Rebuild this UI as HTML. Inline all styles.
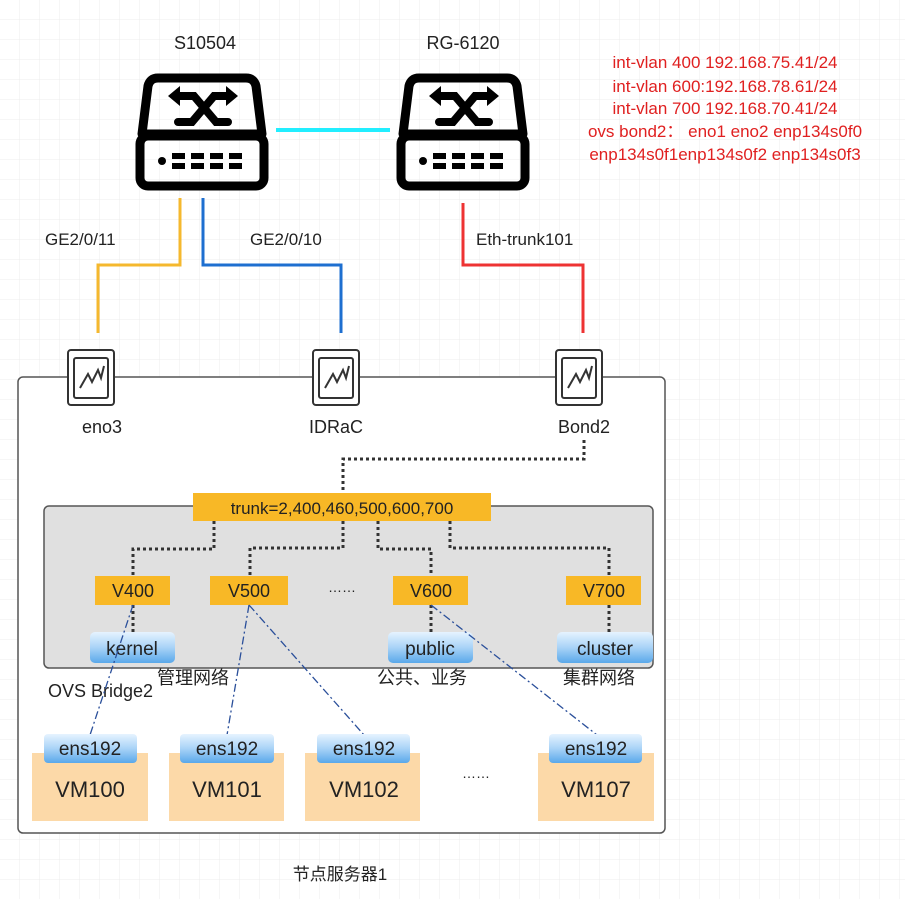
<!DOCTYPE html>
<html><head><meta charset="utf-8"><style>
body{margin:0;background:#fff;}
svg{display:block;font-family:"Liberation Sans","Noto Sans CJK SC",sans-serif;}
</style></head><body>
<svg width="905" height="899" viewBox="0 0 905 899" xmlns="http://www.w3.org/2000/svg">
<defs>
<pattern id="g" width="20" height="20" patternUnits="userSpaceOnUse"><path d="M20 0V20H0" fill="none" stroke="#ececec" stroke-width="1"/></pattern>
<linearGradient id="bl" x1="0" y1="0" x2="0" y2="1"><stop offset="0" stop-color="#e6f3ff"/><stop offset="0.5" stop-color="#a9d3f7"/><stop offset="1" stop-color="#5aa8ea"/></linearGradient>
<g id="sw">
<path d="M22 6 H110 Q118 6 120 14 L126 62 H6 L12 14 Q14 6 22 6Z" fill="none" stroke="#000" stroke-width="9" stroke-linejoin="round"/>
<rect x="4" y="64" width="124" height="50" rx="8" fill="none" stroke="#000" stroke-width="9"/>
<path d="M44 24 H58 L80 50 H92 M42 50 H56 L78 24 H90" fill="none" stroke="#000" stroke-width="8" stroke-linecap="round"/>
<path d="M32 24 l12 -10 v20z M102 24 l-12 -10 v20z" fill="#000"/>
<circle cx="26" cy="89" r="4" fill="#000"/>
<g fill="#000"><rect x="36" y="81" width="13" height="6"/><rect x="36" y="91" width="13" height="6"/><rect x="55" y="81" width="13" height="6"/><rect x="55" y="91" width="13" height="6"/><rect x="74" y="81" width="13" height="6"/><rect x="74" y="91" width="13" height="6"/><rect x="93" y="81" width="13" height="6"/><rect x="93" y="91" width="13" height="6"/></g>
</g>
<g id="nic">
<rect x="0" y="0" width="46" height="55" rx="3" fill="#fff" stroke="#333" stroke-width="2"/>
<rect x="6" y="8" width="34" height="40" rx="2" fill="none" stroke="#333" stroke-width="2"/>
<path d="M12 38 L20 24 L24 32 L30 20 L33 28 L36 16" fill="none" stroke="#333" stroke-width="2"/>
</g>
</defs>
<rect width="905" height="899" fill="url(#g)"/>
<rect x="18" y="377" width="647" height="456" rx="5" fill="#fff" stroke="#555" stroke-width="1.5"/>
<rect x="44" y="506" width="609" height="162" rx="5" fill="#e0e0e0" stroke="#555" stroke-width="1.5"/>
<use href="#sw" x="136" y="72"/>
<use href="#sw" x="397" y="72"/>
<text x="205" y="49" font-size="18" text-anchor="middle" fill="#222">S10504</text>
<text x="463" y="49" font-size="18" text-anchor="middle" fill="#222">RG-6120</text>
<line x1="276" y1="130" x2="390" y2="130" stroke="#2ef" stroke-width="4"/>
<g fill="#e02020" font-size="17" text-anchor="middle">
<text x="725" y="68">int-vlan 400 192.168.75.41/24</text>
<text x="725" y="92">int-vlan 600:192.168.78.61/24</text>
<text x="725" y="114">int-vlan 700 192.168.70.41/24</text>
<text x="725" y="137">ovs bond2： eno1 eno2 enp134s0f0</text>
<text x="725" y="160">enp134s0f1enp134s0f2 enp134s0f3</text>
</g>
<path d="M180 198 V265 H98 V333" fill="none" stroke="#f5b82e" stroke-width="3"/>
<path d="M203 198 V265 H341 V333" fill="none" stroke="#1e6fd0" stroke-width="3"/>
<path d="M463 203 V265 H583 V333" fill="none" stroke="#e33" stroke-width="3"/>
<g font-size="17" fill="#222">
<text x="45" y="245">GE2/0/11</text>
<text x="250" y="245">GE2/0/10</text>
<text x="476" y="245">Eth-trunk101</text>
</g>
<use href="#nic" x="68" y="350"/>
<use href="#nic" x="313" y="350"/>
<use href="#nic" x="556" y="350"/>
<g font-size="18" fill="#222" text-anchor="middle">
<text x="102" y="433">eno3</text><text x="336" y="433">IDRaC</text><text x="584" y="433">Bond2</text>
</g>
<g fill="none" stroke="#333" stroke-width="3" stroke-dasharray="3 3">
<path d="M584 440 V459 H343 V493"/>
<path d="M214 521 V549 H133 V576"/>
<path d="M343 521 V548 H250 V576"/>
<path d="M378 521 V549 H431 V576"/>
<path d="M450 521 V548 H609 V576"/>
<path d="M133 605 V632 M431 605 V632 M609 605 V632"/>
</g>
<rect x="193" y="493" width="298" height="28" fill="#f8b826"/>
<text x="342" y="514" font-size="17" text-anchor="middle" fill="#222">trunk=2,400,460,500,600,700</text>
<g fill="#f8b826"><rect x="95" y="576" width="75" height="29"/><rect x="210" y="576" width="78" height="29"/><rect x="393" y="576" width="75" height="29"/><rect x="566" y="576" width="75" height="29"/></g>
<g font-size="18" text-anchor="middle" fill="#222">
<text x="133" y="597">V400</text><text x="249" y="597">V500</text><text x="431" y="597">V600</text><text x="604" y="597">V700</text>
<text x="342" y="592" font-size="14">……</text>
</g>
<g fill="url(#bl)"><rect x="90" y="632" width="85" height="31" rx="5"/><rect x="388" y="632" width="85" height="31" rx="5"/><rect x="557" y="632" width="96" height="31" rx="5"/></g>
<g font-size="19" text-anchor="middle" fill="#222">
<text x="132" y="655">kernel</text><text x="430" y="655">public</text><text x="605" y="655">cluster</text>
</g>
<g font-size="18" fill="#222">
<text x="157" y="684">管理网络</text><text x="377" y="684">公共、业务</text><text x="563" y="684">集群网络</text>
<text x="48" y="697">OVS Bridge2</text>
</g>
<g fill="#fcd9a8"><rect x="32" y="753" width="116" height="68"/><rect x="169" y="753" width="115" height="68"/><rect x="305" y="753" width="115" height="68"/><rect x="538" y="753" width="116" height="68"/></g>
<g fill="none" stroke="#2a4f9a" stroke-width="1.3" stroke-dasharray="8 3 2 3">
<path d="M133 605 L90 735"/><path d="M249 605 L227 735"/><path d="M249 605 L364 735"/><path d="M431 605 L597 735"/>
</g>
<g fill="url(#bl)"><rect x="44" y="734" width="93" height="29" rx="4"/><rect x="180" y="734" width="94" height="29" rx="4"/><rect x="317" y="734" width="93" height="29" rx="4"/><rect x="549" y="734" width="93" height="29" rx="4"/></g>
<g font-size="19" text-anchor="middle" fill="#222">
<text x="90" y="755">ens192</text><text x="227" y="755">ens192</text><text x="364" y="755">ens192</text><text x="596" y="755">ens192</text>
</g>
<g font-size="22" text-anchor="middle" fill="#222">
<text x="90" y="797">VM100</text><text x="227" y="797">VM101</text><text x="364" y="797">VM102</text><text x="596" y="797">VM107</text>
<text x="476" y="778" font-size="14">……</text>
</g>
<text x="340" y="880" font-size="17" text-anchor="middle" fill="#222">节点服务器1</text>
</svg>
</body></html>
